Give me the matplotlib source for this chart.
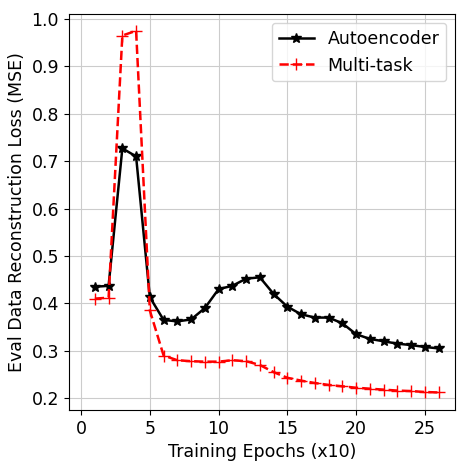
import matplotlib
matplotlib.use("Agg")
import matplotlib.pyplot as plt

epochs = list(range(1, 27))
autoencoder = [0.435, 0.437, 0.727, 0.71, 0.413, 0.365, 0.362, 0.366, 0.39, 0.43,
               0.437, 0.452, 0.455, 0.42, 0.393, 0.377, 0.37, 0.37, 0.358, 0.335,
               0.325, 0.32, 0.315, 0.312, 0.308, 0.305]
multitask = [0.41, 0.412, 0.965, 0.975, 0.385, 0.29, 0.28, 0.278, 0.277, 0.277,
             0.28, 0.278, 0.27, 0.255, 0.243, 0.237, 0.232, 0.228, 0.225, 0.222,
             0.22, 0.218, 0.216, 0.215, 0.213, 0.212]

fig, ax = plt.subplots(figsize=(4.74, 4.74), dpi=100)
ax.plot(epochs, autoencoder, 'k-*', lw=1.8, ms=7, label='Autoencoder')
ax.plot(epochs, multitask, 'r--+', lw=1.8, ms=9, label='Multi-task')
ax.set_xlabel('Training Epochs (x10)', fontsize=12.5)
ax.set_ylabel('Eval Data Reconstruction Loss (MSE)', fontsize=12.5)
ax.set_xticks([0, 5, 10, 15, 20, 25])
ax.set_yticks([0.2, 0.3, 0.4, 0.5, 0.6, 0.7, 0.8, 0.9, 1.0])
ax.tick_params(labelsize=12.5)
ax.set_xlim(-0.9, 27.2)
ax.set_ylim(0.175, 1.01)
ax.grid(True, color='#cccccc')
ax.legend(fontsize=12.5, loc='upper right')
fig.subplots_adjust(left=0.145, right=0.96, top=0.97, bottom=0.135)
fig.savefig('out.png')
